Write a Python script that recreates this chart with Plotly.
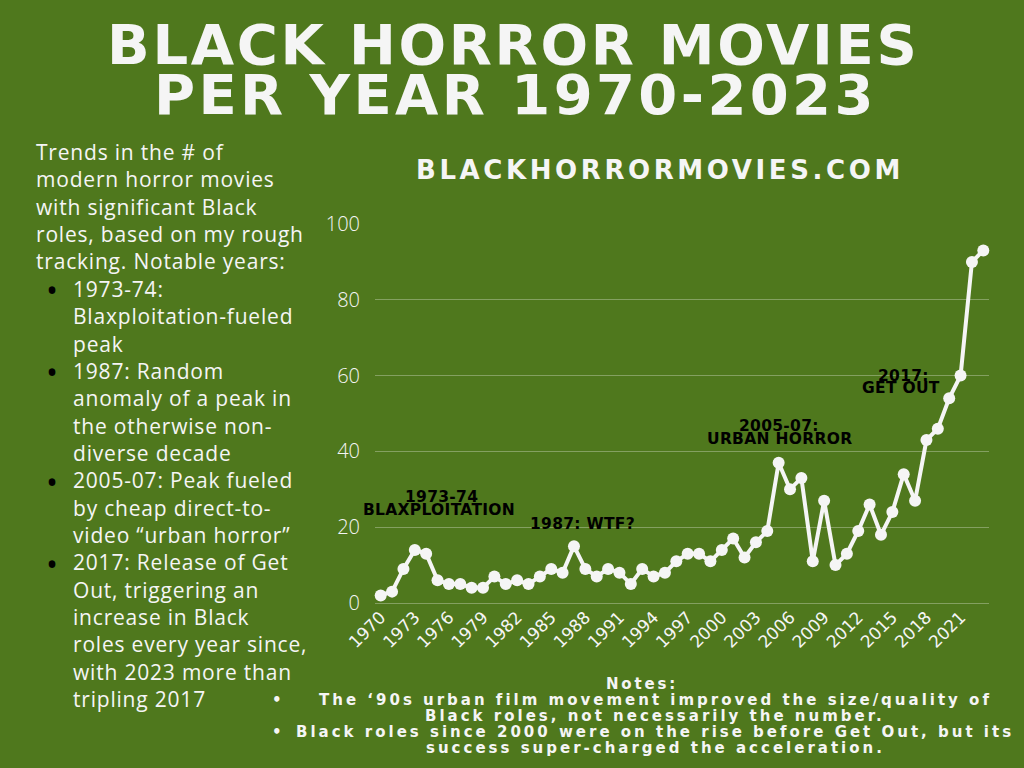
import plotly.graph_objects as go

years = list(range(1970, 2024))
movies = [2, 3, 9, 14, 13, 6, 5, 5, 4, 4,
          7, 5, 6, 5, 7, 9, 8, 15, 9, 7,
          9, 8, 5, 9, 7, 8, 11, 13, 13, 11,
          14, 17, 12, 16, 19, 37, 30, 33, 11, 27,
          10, 13, 19, 26, 18, 24, 34, 27, 43, 46,
          54, 60, 90, 93]

x_tick_vals = list(range(1970, 2022, 3))
x_tick_text = [str(v) for v in x_tick_vals]
y_tick_vals = [0, 20, 40, 60, 80, 100]

title_lines = ["BLACK HORROR MOVIES", "PER YEAR 1970-2023"]
subtitle = "BLACKHORRORMOVIES.COM"

intro_lines = ["Trends in the # of", "modern horror movies", "with significant Black",
               "roles, based on my rough", "tracking. Notable years:"]
bullet_lines = [
    ["1973-74:", "Blaxploitation-fueled", "peak"],
    ["1987: Random", "anomaly of a peak in", "the otherwise non-", "diverse decade"],
    ["2005-07: Peak fueled", "by cheap direct-to-", "video \u201curban horror\u201d"],
    ["2017: Release of Get", "Out, triggering an", "increase in Black",
     "roles every year since,", "with 2023 more than", "tripling 2017"],
]

notes_title = "Notes:"
notes_lines = [
    ("\u2022", "The \u201890s urban film movement improved the size/quality of"),
    (None, "Black roles, not necessarily the number."),
    ("\u2022", "Black roles since 2000 were on the rise before Get Out, but its"),
    (None, "success super-charged the acceleration."),
]

# chart callouts: (text lines, centre x px, centre y px of each line)
callouts = [
    (["1973-74", "BLAXPLOITATION"], [441, 439], [497, 509.5]),
    (["1987: WTF?"], [582], [523.5]),
    (["2005-07:", "URBAN HORROR"], [779, 779.5], [425.5, 438.5]),
    (["2017:", "GET OUT"], [903, 900.5], [375.5, 388]),
]

BG = "#4F781D"
WHITE = "#F5F5F5"
W, H = 1024, 768
L, R, T, B = 375, 989, 224, 603


def px(x):
    return (x - L) / (R - L)


def py(y):
    return (B - y) / (B - T)


def ls(text, sp):
    return f'<span style="letter-spacing:{sp}px">{text}</span>'


fig = go.Figure()
fig.add_trace(go.Scatter(
    x=years, y=movies, mode="lines+markers",
    line=dict(color=WHITE, width=4),
    marker=dict(color=WHITE, size=12),
    cliponaxis=False, hoverinfo="skip",
))

ann = []
# title
ann.append(dict(text=ls(title_lines[0], 2.7), x=px(513), y=py(44.5),
                font=dict(family="DejaVu Sans", size=56, color=WHITE, weight=700)))
ann.append(dict(text=ls(title_lines[1], 3.4), x=px(515), y=py(94),
                font=dict(family="DejaVu Sans", size=56, color=WHITE, weight=700)))
ann.append(dict(text=ls(subtitle, 3.6), x=px(660), y=py(170),
                font=dict(family="DejaVu Sans", size=26, color=WHITE, weight=700)))

# left text
step = 27.36
base0 = 160
for i, line in enumerate(intro_lines):
    ann.append(dict(text=ls(line, 0.8), x=px(34), y=py(base0 + step * i - 8), xanchor="left",
                    font=dict(family="Open Sans", size=21, color=WHITE)))
row = len(intro_lines)
for group in bullet_lines:
    for j, line in enumerate(group):
        yy = py(base0 + step * row - 8)
        if j == 0:
            ann.append(dict(text="\u2022", x=px(52), y=py(base0 + step * row - 7), xanchor="center",
                            font=dict(family="Open Sans", size=32, color="black")))
        ann.append(dict(text=ls(line, 0.8), x=px(71), y=yy, xanchor="left",
                        font=dict(family="Open Sans", size=21, color=WHITE)))
        row += 1

# notes
ann.append(dict(text=ls(notes_title, 2.8), x=px(642), y=py(684),
                font=dict(family="DejaVu Sans", size=15, color=WHITE, weight=700)))
for k, (bul, line) in enumerate(notes_lines):
    yy = py(700 + 16 * k)
    if bul:
        ann.append(dict(text=bul, x=px(277), y=yy,
                        font=dict(family="DejaVu Sans", size=15, color=WHITE, weight=700)))
    ann.append(dict(text=ls(line, 3.0), x=px(655), y=yy,
                    font=dict(family="DejaVu Sans", size=15, color=WHITE, weight=700)))

# callouts
for lines, xs, ys in callouts:
    for t, xx, yy in zip(lines, xs, ys):
        ann.append(dict(text=ls(t, 0.3), x=px(xx), y=py(yy),
                        font=dict(family="DejaVu Sans", size=15.5, color="black", weight=700)))

for a in ann:
    a.setdefault("xanchor", "center")
    a.update(xref="paper", yref="paper", yanchor="middle", showarrow=False)

fig.update_layout(
    width=W, height=H,
    paper_bgcolor=BG, plot_bgcolor=BG,
    margin=dict(l=L, r=W - R, t=T, b=H - B, autoexpand=False),
    showlegend=False,
    annotations=ann,
    xaxis=dict(range=[1969.5, 2023.5], showgrid=False, zeroline=False, showline=False,
               tickmode="array", tickvals=x_tick_vals, ticktext=x_tick_text,
               tickangle=-45, ticks="", ticklabelstandoff=0,
               tickfont=dict(family="DejaVu Sans", size=17, color=WHITE)),
    yaxis=dict(range=[0, 100], tickmode="array", tickvals=y_tick_vals,
               showgrid=True, gridcolor="rgba(255,255,255,0.3)", gridwidth=1,
               zeroline=True, zerolinecolor="rgba(255,255,255,0.3)", zerolinewidth=1,
               showline=False, ticks="", ticklabelstandoff=14,
               tickfont=dict(family="Open Sans", size=20, color=WHITE, weight=300)),
)

fig.write_html(
    "out.html",
    config={"displayModeBar": False},
    post_script="document.body.style.margin='0';document.body.style.overflow='hidden';",
)
